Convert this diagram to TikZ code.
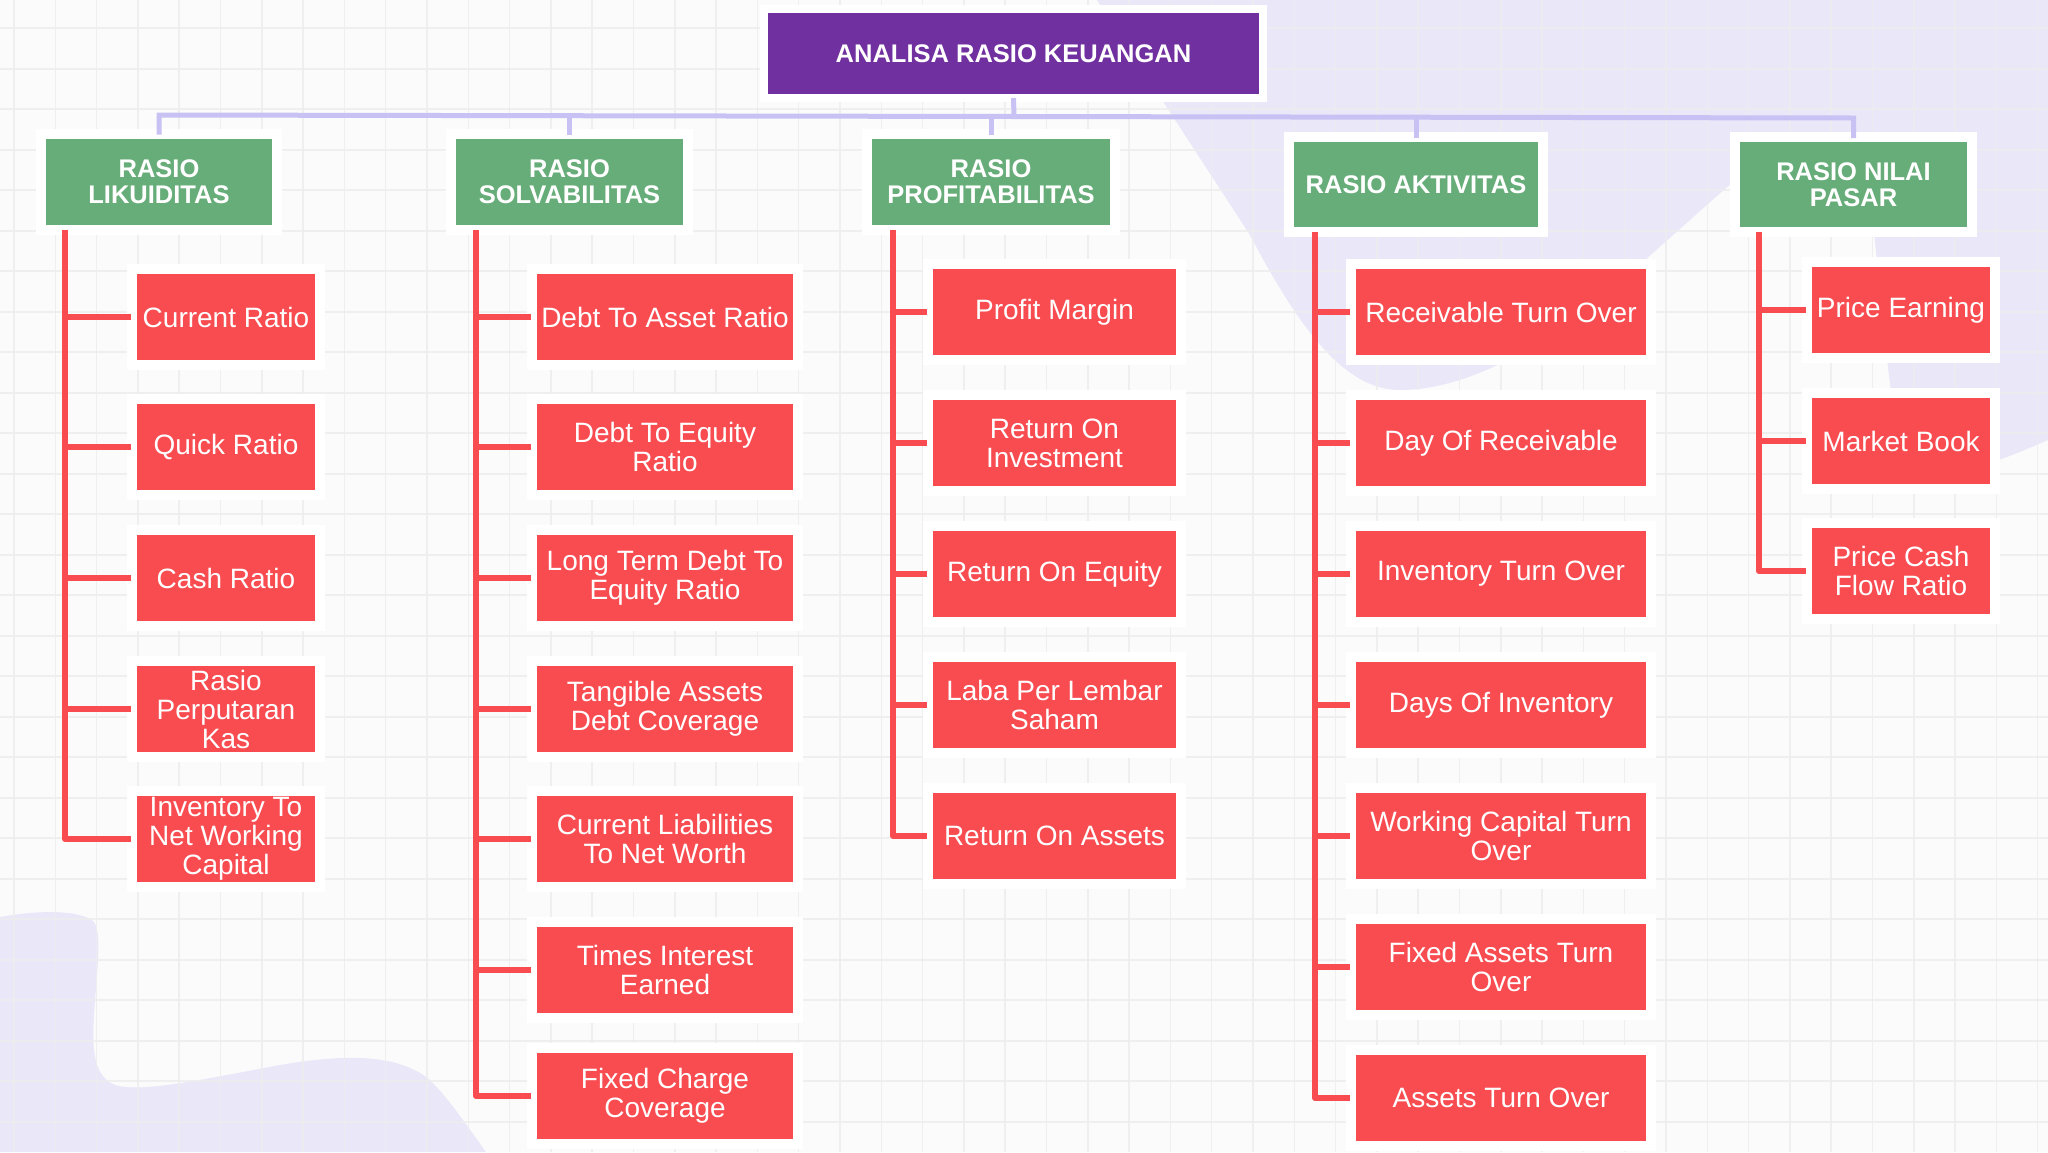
\documentclass[tikz,border=0pt]{standalone}
\usepackage{fontspec}
\setmainfont{Liberation Sans}
\usetikzlibrary{calc}
\definecolor{redL}{HTML}{F84C51}
\definecolor{greenH}{HTML}{67AD79}
\definecolor{purpleT}{HTML}{7030A0}
\definecolor{busC}{HTML}{C8C1F3}
\definecolor{lav}{HTML}{E9E7F8}
\definecolor{bgC}{HTML}{FBFBFB}
\definecolor{gridC}{HTML}{EDEDED}
\tikzset{
  titlebox/.style={fill=purpleT, draw=white, line width=8pt, text=white, inner sep=0pt,
    font=\bfseries\fontsize{25.5}{27}\selectfont, align=center},
  hdr/.style={fill=greenH, draw=white, line width=10pt, text=white, inner sep=0pt, outer sep=0pt,
    minimum height=96pt, font=\bfseries\fontsize{25.5}{26}\selectfont, align=center},
  leaf/.style={fill=redL, draw=white, line width=10pt, text=white, inner sep=0pt, outer sep=0pt,
    minimum height=96pt, font=\fontsize{28}{29}\selectfont, align=center},
  c1/.style={leaf, minimum width=188pt},
  c2/.style={leaf, minimum width=266pt},
  c3/.style={leaf, minimum width=253pt},
  c4/.style={leaf, minimum width=300pt},
  c5/.style={leaf, minimum width=188pt},
  bus/.style={draw=busC, line width=5pt},
  br/.style={draw=redL, line width=6pt, line join=round},
}
\begin{document}
\begin{tikzpicture}[x=1pt,y=-1pt]
\useasboundingbox (0,0) rectangle (2048,1152);
% background
\fill[bgC] (0,0) rectangle (2048,1152);
\fill[lav] (1097,0) -- (1250,235) .. controls (1300,330) and (1345,390) .. (1400,390)
  .. controls (1460,390) and (1530,355) .. (1600,300) -- (1735,180) -- (1800,150) -- (1874,233)
  .. controls (1885,330) and (1890,420) .. (1905,455)
  .. controls (1930,490) and (1990,465) .. (2048,440) -- (2048,0) -- cycle;
\fill[lav] (0,917) .. controls (40,910) and (75,910) .. (92,920)
  .. controls (102,928) and (98,960) .. (95,1000)
  .. controls (92,1040) and (90,1075) .. (115,1085)
  .. controls (140,1093) and (200,1080) .. (280,1065)
  .. controls (350,1053) and (400,1055) .. (430,1080)
  .. controls (450,1100) and (470,1130) .. (486,1152) -- (0,1152) -- cycle;
\foreach \i [evaluate=\i as \gx using 14+41.3*\i] in {0,...,49}
  \draw[gridC, line width=1.5pt, opacity=0.8] (\gx,0) -- (\gx,1152);
\foreach \i [evaluate=\i as \gy using 28+40.5*\i] in {0,...,28}
  \draw[gridC, line width=2pt, opacity=0.8] (0,\gy) -- (2048,\gy);

% title
\node[titlebox, minimum width=499pt, minimum height=89pt, outer sep=0pt] (top) at (1013.5,53.5) {ANALISA RASIO KEUANGAN};
% headers
\node[hdr, minimum width=236pt] (h1) at (159,181.5) {RASIO\\LIKUIDITAS};
\node[hdr, minimum width=237pt] (h2) at (569.5,181.5) {RASIO\\SOLVABILITAS};
\node[hdr, minimum width=248pt] (h3) at (991,181.5) {RASIO\\PROFITABILITAS};
\node[hdr, minimum width=254pt, minimum height=95pt] (h4) at (1416,184.5) {RASIO AKTIVITAS};
\node[hdr, minimum width=237pt, minimum height=95pt] (h5) at (1853.5,184.5) {RASIO NILAI\\PASAR};

% column 1
\node[c1] (l11) at (226,317) {Current Ratio};
\node[c1] (l12) at (226,447) {Quick Ratio};
\node[c1] (l13) at (226,578) {Cash Ratio};
\node[c1] (l14) at (226,709) {Rasio\\Perputaran\\Kas};
\node[c1] (l15) at (226,839) {Inventory To\\Net Working\\Capital};
% column 2
\node[c2] (l21) at (665,317) {Debt To Asset Ratio};
\node[c2] (l22) at (665,447) {Debt To Equity\\Ratio};
\node[c2] (l23) at (665,578) {Long Term Debt To\\Equity Ratio};
\node[c2] (l24) at (665,709) {Tangible Assets\\Debt Coverage};
\node[c2] (l25) at (665,839) {Current Liabilities\\To Net Worth};
\node[c2] (l26) at (665,970) {Times Interest\\Earned};
\node[c2] (l27) at (665,1096) {Fixed Charge\\Coverage};
% column 3
\node[c3] (l31) at (1054.5,312) {Profit Margin};
\node[c3] (l32) at (1054.5,443) {Return On\\Investment};
\node[c3] (l33) at (1054.5,574) {Return On Equity};
\node[c3] (l34) at (1054.5,705) {Laba Per Lembar\\Saham};
\node[c3] (l35) at (1054.5,836) {Return On Assets};
% column 4
\node[c4] (l41) at (1501,312) {Receivable Turn Over};
\node[c4] (l42) at (1501,443) {Day Of Receivable};
\node[c4] (l43) at (1501,574) {Inventory Turn Over};
\node[c4] (l44) at (1501,705) {Days Of Inventory};
\node[c4] (l45) at (1501,836) {Working Capital Turn\\Over};
\node[c4] (l46) at (1501,967) {Fixed Assets Turn\\Over};
\node[c4] (l47) at (1501,1098) {Assets Turn Over};
% column 5
\node[c5] (l51) at (1901,310) {Price Earning};
\node[c5] (l52) at (1901,441) {Market Book};
\node[c5] (l53) at (1901,571) {Price Cash\\Flow Ratio};

% bus
\coordinate (bj) at (1014,116.5);
\draw[bus] (top.south) -- (bj);
\draw[bus] (bj) -- (h1.north |- 0,115) -- ([yshift=-1pt]h1.north);
\draw[bus] (bj) -- (h5.north |- 0,118) -- ([yshift=-1pt]h5.north);
\draw[bus] (h2.north |- 0,115) -- ([yshift=-1pt]h2.north);
\draw[bus] (h3.north |- 0,115) -- ([yshift=-1pt]h3.north);
\draw[bus] (h4.north |- 0,118) -- ([yshift=-1pt]h4.north);

% trunks
\coordinate (t1) at ([xshift=24pt]h1.south west);
\coordinate (t2) at ([xshift=25pt]h2.south west);
\coordinate (t3) at ([xshift=26pt]h3.south west);
\coordinate (t4) at ([xshift=26pt]h4.south west);
\coordinate (t5) at ([xshift=24pt]h5.south west);
\draw[br] (t1) |- ([xshift=-1pt]l15.west);
\foreach \n in {l11,l12,l13,l14} \draw[br] (\n.west -| t1) -- ([xshift=-1pt]\n.west);
\draw[br] (t2) |- ([xshift=-1pt]l27.west);
\foreach \n in {l21,l22,l23,l24,l25,l26} \draw[br] (\n.west -| t2) -- ([xshift=-1pt]\n.west);
\draw[br] (t3) |- ([xshift=-1pt]l35.west);
\foreach \n in {l31,l32,l33,l34} \draw[br] (\n.west -| t3) -- ([xshift=-1pt]\n.west);
\draw[br] (t4) |- ([xshift=-1pt]l47.west);
\foreach \n in {l41,l42,l43,l44,l45,l46} \draw[br] (\n.west -| t4) -- ([xshift=-1pt]\n.west);
\draw[br] (t5) |- ([xshift=-1pt]l53.west);
\foreach \n in {l51,l52} \draw[br] (\n.west -| t5) -- ([xshift=-1pt]\n.west);
\end{tikzpicture}
\end{document}
